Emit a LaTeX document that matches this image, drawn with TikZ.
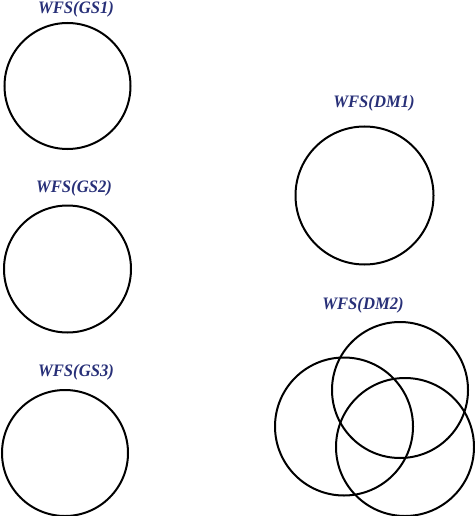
\documentclass[tikz,border=0pt]{standalone}
\usepackage{fontspec}
\setmainfont{Liberation Serif}
\definecolor{lblblue}{RGB}{40,48,120}
\begin{document}
\begin{tikzpicture}[x=1pt,y=-1pt,
  ring/.style={draw=black,line width=2pt,circle,inner sep=0pt,minimum size=#1},
  lbl/.style={text=lblblue,font=\fontsize{17.5}{19}\selectfont\bfseries\itshape,inner sep=0pt,xscale=0.95}]
\useasboundingbox (0,0) rectangle (474,516);
% left column
\node[lbl,anchor=north] (t1) at (76,1) {WFS(GS1)};
\node[ring=126pt] (c1) at (67.5,86) {};
\node[lbl] (t2) at (74,188) {WFS(GS2)};
\node[ring=127pt] (c2) at (67.5,269) {};
\node[lbl] (t3) at (76,372) {WFS(GS3)};
\node[ring=126pt] (c3) at (65,453) {};
% right column
\node[lbl] (t4) at (374,103) {WFS(DM1)};
\node[ring=138pt] (c4) at (364.5,195.5) {};
\node[lbl] (t5) at (363,305) {WFS(DM2)};
\node[ring=136pt] (c5) at (400,390) {};
\node[ring=138pt] (c6) at (344,426.5) {};
\node[ring=138pt] (c7) at (405,447) {};
\end{tikzpicture}
\end{document}
